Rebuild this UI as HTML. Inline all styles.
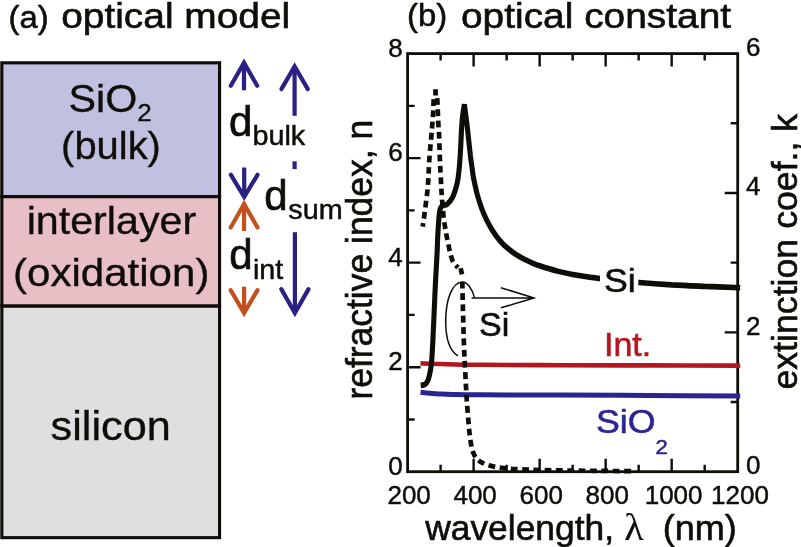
<!DOCTYPE html>
<html lang="en">
<head>
<meta charset="utf-8">
<title>Optical model and optical constants</title>
<style>
html,body{margin:0;padding:0;background:#fff;}
body{width:801px;height:547px;overflow:hidden;}
svg{display:block;font-family:"Liberation Sans",sans-serif;}
text{white-space:pre;}
</style>
</head>
<body>
<svg width="801" height="547" viewBox="0 0 801 547">
<rect x="0" y="0" width="801" height="547" fill="#ffffff"/>
<text transform="translate(8.60,28.00) scale(1.06,1)" font-size="31" fill="#0e0d08" stroke="#0e0d08" stroke-width="0.53" text-anchor="start">(a)</text>
<text transform="translate(61.20,28.00) scale(1.08,1)" font-size="36" fill="#0e0d08" stroke="#0e0d08" stroke-width="0.61" text-anchor="start">optical model</text>
<rect x="0.3" y="61.3" width="220.8" height="135.4" fill="#c0c0e1"/>
<rect x="0.3" y="196.7" width="220.8" height="109.3" fill="#e7bfc5"/>
<rect x="0.3" y="306.0" width="220.8" height="233.2" fill="#dfdfdf"/>
<rect x="1.85" y="62.85" width="217.70" height="474.80" fill="none" stroke="#0e0d08" stroke-width="3.1"/>
<line x1="0.3" x2="221.1" y1="196.7" y2="196.7" stroke="#0e0d08" stroke-width="3.3"/>
<line x1="0.3" x2="221.1" y1="306.0" y2="306.0" stroke="#0e0d08" stroke-width="3.3"/>
<text transform="translate(68.60,112.00) scale(1.085,1)" font-size="38" fill="#0e0d08" stroke="#0e0d08" stroke-width="0.34" text-anchor="start">SiO<tspan font-size="24" dy="8.7">2</tspan></text>
<text transform="translate(111.00,159.00) scale(1.05,1)" font-size="38" fill="#0e0d08" stroke="#0e0d08" stroke-width="0.34" text-anchor="middle">(bulk)</text>
<text transform="translate(111.40,234.30) scale(1.085,1)" font-size="38" fill="#0e0d08" stroke="#0e0d08" stroke-width="0.34" text-anchor="middle">interlayer</text>
<text transform="translate(111.20,286.20) scale(1.065,1)" font-size="39.5" fill="#0e0d08" stroke="#0e0d08" stroke-width="0.36" text-anchor="middle">(oxidation)</text>
<text transform="translate(110.70,440.30) scale(1.055,1)" font-size="41" fill="#0e0d08" stroke="#0e0d08" stroke-width="0.37" text-anchor="middle">silicon</text>
<path d="M244.00,90.30 L244.00,62.76" fill="none" stroke="#2b2084" stroke-width="4.2"/>
<path d="M230.80,85.80 L244.00,62.76 L257.20,85.80" fill="none" stroke="#2b2084" stroke-width="4.2" stroke-linecap="round" stroke-linejoin="miter" stroke-miterlimit="10"/>
<path d="M244.20,167.50 L244.20,196.83" fill="none" stroke="#2b2084" stroke-width="4.2"/>
<path d="M230.90,174.80 L244.20,196.83 L257.50,174.80" fill="none" stroke="#2b2084" stroke-width="4.2" stroke-linecap="round" stroke-linejoin="miter" stroke-miterlimit="10"/>
<path d="M244.10,231.00 L244.10,203.98" fill="none" stroke="#c4501f" stroke-width="4.2"/>
<path d="M230.70,227.50 L244.10,203.98 L257.50,227.50" fill="none" stroke="#c4501f" stroke-width="4.2" stroke-linecap="round" stroke-linejoin="miter" stroke-miterlimit="10"/>
<path d="M244.10,286.70 L244.10,313.11" fill="none" stroke="#c4501f" stroke-width="4.2"/>
<path d="M230.70,290.10 L244.10,313.11 L257.50,290.10" fill="none" stroke="#c4501f" stroke-width="4.2" stroke-linecap="round" stroke-linejoin="miter" stroke-miterlimit="10"/>
<path d="M294.60,115.80 L294.60,66.49" fill="none" stroke="#2b2084" stroke-width="4.2"/>
<path d="M281.40,89.10 L294.60,66.49 L307.80,89.10" fill="none" stroke="#2b2084" stroke-width="4.2" stroke-linecap="round" stroke-linejoin="miter" stroke-miterlimit="10"/>
<line x1="294.6" x2="294.6" y1="161.3" y2="169.1" stroke="#2b2084" stroke-width="4.2"/>
<path d="M294.90,232.20 L294.90,313.02" fill="none" stroke="#2b2084" stroke-width="4.2"/>
<path d="M281.30,289.10 L294.90,313.02 L308.50,289.10" fill="none" stroke="#2b2084" stroke-width="4.2" stroke-linecap="round" stroke-linejoin="miter" stroke-miterlimit="10"/>
<text transform="translate(229.10,135.50) scale(1.0,1)" font-size="42" fill="#0e0d08" stroke="#0e0d08" stroke-width="0.71" text-anchor="start">d</text>
<text transform="translate(252.50,145.00) scale(1.065,1)" font-size="27" fill="#0e0d08" stroke="#0e0d08" stroke-width="0.46" text-anchor="start">bulk</text>
<text transform="translate(264.20,209.70) scale(1.0,1)" font-size="42" fill="#0e0d08" stroke="#0e0d08" stroke-width="0.71" text-anchor="start">d</text>
<text transform="translate(288.30,219.30) scale(1.065,1)" font-size="27" fill="#0e0d08" stroke="#0e0d08" stroke-width="0.46" text-anchor="start">sum</text>
<text transform="translate(229.20,269.40) scale(1.0,1)" font-size="42" fill="#0e0d08" stroke="#0e0d08" stroke-width="0.71" text-anchor="start">d</text>
<text transform="translate(252.90,279.30) scale(1.065,1)" font-size="27" fill="#0e0d08" stroke="#0e0d08" stroke-width="0.46" text-anchor="start">int</text>
<text transform="translate(407.00,25.80) scale(1.06,1)" font-size="31" fill="#0e0d08" stroke="#0e0d08" stroke-width="0.53" text-anchor="start">(b)</text>
<text transform="translate(461.00,28.30) scale(1.08,1)" font-size="36" fill="#0e0d08" stroke="#0e0d08" stroke-width="0.61" text-anchor="start">optical constant</text>
<rect x="407.6" y="53.6" width="330.10" height="418.10" fill="none" stroke="#0e0d08" stroke-width="2.8"/>
<path d="M440.61,53.6 v7.0 M440.61,471.7 v-7.0 M473.62,53.6 v13.0 M473.62,471.7 v-13.0 M506.63,53.6 v7.0 M506.63,471.7 v-7.0 M539.64,53.6 v13.0 M539.64,471.7 v-13.0 M572.65,53.6 v7.0 M572.65,471.7 v-7.0 M605.66,53.6 v13.0 M605.66,471.7 v-13.0 M638.67,53.6 v7.0 M638.67,471.7 v-7.0 M671.68,53.6 v13.0 M671.68,471.7 v-13.0 M704.69,53.6 v7.0 M704.69,471.7 v-7.0 M407.6,419.44 h7.0 M407.6,367.18 h13.0 M407.6,314.91 h7.0 M407.6,262.65 h13.0 M407.6,210.39 h7.0 M407.6,158.12 h13.0 M407.6,105.86 h7.0 M737.7,402.02 h-7.0 M737.7,332.33 h-13.0 M737.7,262.65 h-7.0 M737.7,192.97 h-13.0 M737.7,123.28 h-7.0" fill="none" stroke="#0e0d08" stroke-width="2.4"/>
<path d="M420.50,363.40 C423.75,363.50 430.08,363.77 440.00,364.00 C449.92,364.23 460.00,364.60 480.00,364.80 C500.00,365.00 531.67,365.10 560.00,365.20 C588.33,365.30 619.97,365.33 650.00,365.40 C680.03,365.47 725.17,365.57 740.20,365.60" fill="none" stroke="#b4161d" stroke-width="4.6"/>
<path d="M420.50,392.30 C422.08,392.45 426.75,392.93 430.00,393.20 C433.25,393.47 436.33,393.70 440.00,393.90 C443.67,394.10 445.33,394.25 452.00,394.40 C458.67,394.55 462.00,394.68 480.00,394.80 C498.00,394.92 531.67,394.98 560.00,395.10 C588.33,395.22 619.97,395.35 650.00,395.50 C680.03,395.65 725.17,395.92 740.20,396.00" fill="none" stroke="#2a2590" stroke-width="5.0"/>
<path d="M435.5,89.3 L435.6,95.5" fill="none" stroke="#0e0d08" stroke-width="4.8"/>
<path d="M433.70,99.20 C433.65,100.33 433.50,103.55 433.40,106.00 C433.30,108.45 433.33,110.15 433.10,113.90 C432.87,117.65 432.63,120.82 432.00,128.50 C431.37,136.18 429.98,150.48 429.30,160.00 C428.62,169.52 428.60,177.37 427.90,185.60 C427.20,193.83 425.97,202.55 425.10,209.40 C424.23,216.25 423.10,223.82 422.70,226.70" fill="none" stroke="#0e0d08" stroke-width="4.7" stroke-dasharray="6.8 4.5"/>
<path d="M437.20,98.10 C437.27,99.42 437.48,103.37 437.60,106.00 C437.72,108.63 437.77,110.77 437.90,113.90 C438.03,117.03 438.18,120.85 438.40,124.80 C438.62,128.75 438.95,131.80 439.20,137.60 C439.45,143.40 439.60,152.20 439.90,159.60 C440.20,167.00 440.63,175.23 441.00,182.00 C441.37,188.77 441.63,194.12 442.10,200.20 C442.57,206.28 443.13,213.02 443.80,218.50 C444.47,223.98 445.35,228.83 446.10,233.10 C446.85,237.37 447.53,240.45 448.30,244.10 C449.07,247.75 449.85,251.92 450.70,255.00 C451.55,258.08 452.18,260.50 453.40,262.60 C454.62,264.70 457.23,266.77 458.00,267.60" fill="none" stroke="#0e0d08" stroke-width="4.7" stroke-dasharray="6.8 4.5"/>
<path d="M460.6,268.3 L462.0,274.4" fill="none" stroke="#0e0d08" stroke-width="4.7"/>
<path d="M462.30,281.90 C462.35,284.20 462.33,285.48 462.60,295.70 C462.87,305.92 463.45,330.32 463.90,343.20 C464.35,356.08 464.82,363.48 465.30,373.00 C465.78,382.52 466.18,391.17 466.80,400.30 C467.42,409.43 468.40,421.18 469.00,427.80 C469.60,434.42 469.87,436.38 470.40,440.00 C470.93,443.62 471.52,446.92 472.20,449.50 C472.88,452.08 473.62,453.83 474.50,455.50 C475.38,457.17 476.17,458.28 477.50,459.50 C478.83,460.72 480.42,461.78 482.50,462.80 C484.58,463.82 487.08,464.80 490.00,465.60 C492.92,466.40 495.00,466.98 500.00,467.60 C505.00,468.22 510.00,468.83 520.00,469.30 C530.00,469.77 541.00,470.08 560.00,470.40 C579.00,470.72 621.67,471.07 634.00,471.20" fill="none" stroke="#0e0d08" stroke-width="4.7" stroke-dasharray="6.8 4.5"/>
<path transform="scale(1,1.1)" d="M420.70,350.36 C421.17,350.30 422.55,350.33 423.50,350.00 C424.45,349.67 425.60,349.23 426.40,348.36 C427.20,347.50 427.77,346.14 428.30,344.82 C428.83,343.50 429.17,342.26 429.60,340.45 C430.03,338.65 430.50,336.74 430.90,334.00 C431.30,331.26 431.67,328.15 432.00,324.00 C432.33,319.85 432.60,314.61 432.90,309.09 C433.20,303.58 433.50,297.06 433.80,290.91 C434.10,284.76 434.40,278.24 434.70,272.18 C435.00,266.12 435.22,261.27 435.60,254.55 C435.98,247.82 436.62,238.94 437.00,231.82 C437.38,224.70 437.53,217.91 437.90,211.82 C438.27,205.73 438.82,198.91 439.20,195.27 C439.58,191.64 439.82,191.26 440.20,190.00 C440.58,188.74 440.87,188.33 441.50,187.73 C442.13,187.12 443.08,186.70 444.00,186.36 C444.92,186.03 445.58,186.86 447.00,185.73 C448.42,184.59 450.80,182.77 452.50,179.55 C454.20,176.32 456.10,170.61 457.20,166.36 C458.30,162.12 458.60,158.24 459.10,154.09 C459.60,149.94 459.90,145.50 460.20,141.45 C460.50,137.41 460.68,133.70 460.90,129.82 C461.12,125.94 461.23,122.09 461.50,118.18 C461.77,114.27 462.02,110.26 462.50,106.36 C462.98,102.47 464.08,96.74 464.40,94.82 L464.40,94.82 C464.67,96.74 465.47,102.47 466.00,106.36 C466.53,110.26 466.87,112.33 467.60,118.18 C468.33,124.03 469.63,135.59 470.40,141.45 C471.17,147.32 471.66,149.92 472.20,153.36 C472.74,156.81 472.83,158.43 473.62,162.14 C474.41,165.84 475.82,171.67 476.92,175.58 C478.02,179.49 479.12,182.59 480.22,185.61 C481.32,188.62 482.42,191.25 483.52,193.68 C484.62,196.12 485.72,198.15 486.82,200.19 C487.92,202.24 489.02,204.16 490.12,205.94 C491.23,207.72 492.33,209.35 493.43,210.88 C494.53,212.42 495.63,213.83 496.73,215.16 C497.83,216.49 498.93,217.70 500.03,218.87 C501.13,220.03 502.23,221.15 503.33,222.14 C504.43,223.13 504.98,223.56 506.63,224.80 C508.28,226.05 511.03,228.16 513.23,229.60 C515.43,231.04 517.63,232.28 519.83,233.45 C522.03,234.62 524.24,235.65 526.44,236.63 C528.64,237.62 530.84,238.51 533.04,239.34 C535.24,240.17 535.79,240.48 539.64,241.62 C543.49,242.76 550.64,244.87 556.14,246.18 C561.65,247.50 564.40,248.22 572.65,249.51 C580.90,250.80 594.66,252.71 605.66,253.93 C616.66,255.15 627.67,255.99 638.67,256.83 C649.67,257.67 660.68,258.38 671.68,258.97 C682.68,259.55 693.27,259.91 704.69,260.34 C716.11,260.77 734.28,261.35 740.20,261.55" fill="none" stroke="#0e0d08" stroke-width="5.1" stroke-linejoin="bevel"/>
<rect x="600.0" y="262" width="38.3" height="34" fill="#fff"/>
<text transform="translate(604.00,291.50) scale(1.05,1)" font-size="34" fill="#0e0d08" stroke="#0e0d08" stroke-width="0.58" text-anchor="start">Si</text>
<text transform="translate(604.00,356.30) scale(1.0,1)" font-size="34" fill="#b4161d" stroke="#b4161d" stroke-width="0.58" text-anchor="start">Int.</text>
<text transform="translate(596.00,432.60) scale(1.05,1)" font-size="34" fill="#2a2590" stroke="#2a2590" stroke-width="0.58" text-anchor="start">SiO<tspan font-size="21" dy="21">2</tspan></text>
<path d="M474.4,297.4 C472,288 467,282 462.5,281.9 C452,282 445.7,300 445.7,321.2 C445.7,338 450,351 457.9,355.9" fill="none" stroke="#0e0d08" stroke-width="1.5"/>
<path d="M471.6,298 L533.0,298 M500.9,287.7 L534.0,298 L500.9,307.8" fill="none" stroke="#0e0d08" stroke-width="1.5"/>
<text transform="translate(479.00,335.50) scale(1.0,1)" font-size="34" fill="#0e0d08" stroke="#0e0d08" stroke-width="0.58" text-anchor="start">Si</text>
<text transform="translate(409.10,503.50) scale(1.04,1)" font-size="25" fill="#0e0d08" stroke="#0e0d08" stroke-width="0.43" text-anchor="middle">200</text>
<text transform="translate(475.12,503.50) scale(1.04,1)" font-size="25" fill="#0e0d08" stroke="#0e0d08" stroke-width="0.43" text-anchor="middle">400</text>
<text transform="translate(541.14,503.50) scale(1.04,1)" font-size="25" fill="#0e0d08" stroke="#0e0d08" stroke-width="0.43" text-anchor="middle">600</text>
<text transform="translate(607.16,503.50) scale(1.04,1)" font-size="25" fill="#0e0d08" stroke="#0e0d08" stroke-width="0.43" text-anchor="middle">800</text>
<text transform="translate(673.58,503.50) scale(1.04,1)" font-size="25" fill="#0e0d08" stroke="#0e0d08" stroke-width="0.43" text-anchor="middle">1000</text>
<text transform="translate(740.00,503.50) scale(1.04,1)" font-size="25" fill="#0e0d08" stroke="#0e0d08" stroke-width="0.43" text-anchor="middle">1200</text>
<text transform="translate(402.80,474.90) scale(1.04,1)" font-size="25" fill="#0e0d08" stroke="#0e0d08" stroke-width="0.43" text-anchor="end">0</text>
<text transform="translate(402.80,370.38) scale(1.04,1)" font-size="25" fill="#0e0d08" stroke="#0e0d08" stroke-width="0.43" text-anchor="end">2</text>
<text transform="translate(402.80,265.85) scale(1.04,1)" font-size="25" fill="#0e0d08" stroke="#0e0d08" stroke-width="0.43" text-anchor="end">4</text>
<text transform="translate(402.80,161.32) scale(1.04,1)" font-size="25" fill="#0e0d08" stroke="#0e0d08" stroke-width="0.43" text-anchor="end">6</text>
<text transform="translate(402.80,56.80) scale(1.04,1)" font-size="25" fill="#0e0d08" stroke="#0e0d08" stroke-width="0.43" text-anchor="end">8</text>
<text transform="translate(746.00,474.10) scale(1.04,1)" font-size="25" fill="#0e0d08" stroke="#0e0d08" stroke-width="0.43" text-anchor="start">0</text>
<text transform="translate(746.00,334.73) scale(1.04,1)" font-size="25" fill="#0e0d08" stroke="#0e0d08" stroke-width="0.43" text-anchor="start">2</text>
<text transform="translate(746.00,195.37) scale(1.04,1)" font-size="25" fill="#0e0d08" stroke="#0e0d08" stroke-width="0.43" text-anchor="start">4</text>
<text transform="translate(746.00,56.00) scale(1.04,1)" font-size="25" fill="#0e0d08" stroke="#0e0d08" stroke-width="0.43" text-anchor="start">6</text>
<text transform="translate(372.30,399.60) rotate(-90) scale(0.985,1)" font-size="36" fill="#0e0d08" stroke="#0e0d08" stroke-width="0.61" text-anchor="start">refractive index, n</text>
<text transform="translate(796.50,389.60) rotate(-90) scale(0.992,1)" font-size="36" fill="#0e0d08" stroke="#0e0d08" stroke-width="0.61" text-anchor="start">extinction coef., k</text>
<text transform="translate(425.20,539.50) scale(1.011,1)" font-size="35" fill="#0e0d08" stroke="#0e0d08" stroke-width="0.60" text-anchor="start">wavelength,</text>
<text transform="translate(624.20,539.50) scale(1.05,1)" font-size="38" fill="#0e0d08" stroke="#0e0d08" stroke-width="0.15" text-anchor="start" font-family="Liberation Serif, DejaVu Serif, serif">λ</text>
<text transform="translate(662.80,539.50) scale(1.03,1)" font-size="35" fill="#0e0d08" stroke="#0e0d08" stroke-width="0.60" text-anchor="start">(nm)</text>
</svg>
</body>
</html>
